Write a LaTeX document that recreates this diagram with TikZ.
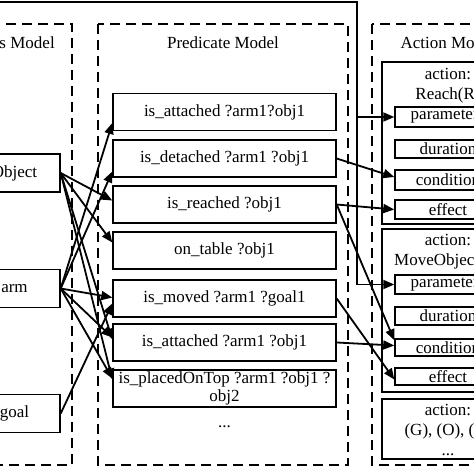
\documentclass[tikz,border=0pt]{standalone}
\usepackage{fontspec}
\setmainfont{Liberation Serif}
\usetikzlibrary{arrows.meta}

\begin{document}
\begin{tikzpicture}
    [
        x=1pt,y=-1pt,
        font=\fontsize{17pt}{20pt}\selectfont,
        model/.style={draw,line width=1.6pt,dash pattern=on 10pt off 6pt},
        cbox/.style={draw,line width=1.4pt,minimum width=91pt,minimum height=38pt},
        pbox/.style={draw,line width=1.4pt,minimum width=223pt,minimum height=37pt,inner sep=1pt,align=center},
        abox/.style={draw,line width=1.4pt,minimum width=132pt},
        fbox/.style={draw,line width=1.4pt,minimum width=106pt,inner sep=0pt},
        link/.style={line width=1.8pt,-{Triangle[length=11pt,width=9pt]}},
    ]
    \useasboundingbox (0,0) rectangle (474,474);
    \clip (0,0) rectangle (474,474);
    % The three models
    \draw[model] (-46,24) rectangle (72,465);
    \draw[model] (98,24) rectangle (348,465);
    \draw[model] (372,24) rectangle (524,465);
    \node (ctitle) at (12,43) {Class Model};
    \node (ptitle) at (223,43) {Predicate Model};
    \node (atitle) at (448,43) {Action Model};
    % Classes
    \node[cbox] (obj) at (14.5,173) {Object};
    \node[cbox] (arm) at (14.5,288.5) {arm};
    \node[cbox] (goal) at (14.5,413.5) {goal};
    % Predicates
    \node[pbox] (p1) at (224.5,112) {is\_attached ?arm1?obj1};
    \node[pbox] (p2) at (224.5,158.5) {is\_detached ?arm1 ?obj1};
    \node[pbox] (p3) at (224.5,204.5) {is\_reached ?obj1};
    \node[pbox] (p4) at (224.5,250.5) {on\_table ?obj1};
    \node[pbox] (p5) at (224.5,298.5) {is\_moved ?arm1 ?goal1};
    \node[pbox] (p6) at (224.5,342.5) {is\_attached ?arm1 ?obj1};
    \node[pbox,font=\fontsize{17pt}{18pt}\selectfont] (p7) at (224.5,388.5)
    {is\_placedOnTop ?arm1 ?obj1 ?\\obj2};
    \node (pdots) at (224.5,427) {...};
    % Actions
    \node[abox,minimum height=162pt] (reach) at (448,143) {};
    \node[align=center] (reachlbl) at (448,86) {action:\\Reach(R)};
    \node[fbox,minimum height=20pt] (rpar) at (448,117) {parameters};
    \node[fbox,minimum height=18pt] (rdur) at (448,149) {duration};
    \node[fbox,minimum height=20pt] (rcond) at (448,180) {condition};
    \node[fbox,minimum height=19pt] (rfx) at (448,209.5) {effect};

    \node[abox,minimum height=163pt] (move) at (448,310.5) {};
    \node[align=center] (movelbl) at (448,252) {action:\\MoveObject(R)};
    \node[fbox,minimum height=19pt] (mpar) at (448,284.5) {parameters};
    \node[fbox,minimum height=18pt] (mdur) at (448,316) {duration};
    \node[fbox,minimum height=17pt] (mcond) at (448,347.5) {condition};
    \node[fbox,minimum height=17pt] (mfx) at (448,376.5) {effect};

    \node[abox,minimum height=60pt] (other) at (448,429) {};
    \node[align=center] (otherlbl) at (448,430) {action:\\(G), (O), (R)\\...};
    % Classes to predicates
    \draw[link] (obj.east) -- ([yshift=4pt]p3.west);
    \draw[link] (obj.east) -- ([yshift=8pt]p4.west);
    \draw[link] (obj.east) -- ([yshift=3pt]p6.west);
    \draw[link] (obj.east) -- ([yshift=9pt]p7.west);
    \draw[link] (arm.east) -- ([yshift=-11pt]p1.west);
    \draw[link] (arm.east) -- ([yshift=-13pt]p2.west);
    \draw[link] (arm.east) -- ([yshift=1pt]p5.west);
    \draw[link] (arm.east) -- ([yshift=5pt]p6.west);
    \draw[link] (arm.east) -- ([yshift=10pt]p7.west);
    \draw[link] (goal.east) -- ([yshift=-5pt]p5.west);
    % Predicates to actions
    \coordinate (src) at (-10,2);
    \coordinate (bus) at (357,2);
    \draw[link] (src) -- (bus) |- (mpar.west);
    \draw[link] (bus |- rpar.west) -- (rpar.west);
    \draw[link] (p2.east) -- ([yshift=3pt]rcond.west);
    \draw[link] (p3.east) -- (rfx.west);
    \draw[link] (p3.east) -- ([yshift=-2pt]mcond.north west);
    \draw[link] (p6.east) -- ([yshift=2pt]mcond.west);
    \draw[link] (p5.east) -- ([yshift=-3pt]mfx.west);
\end{tikzpicture}
\end{document}
